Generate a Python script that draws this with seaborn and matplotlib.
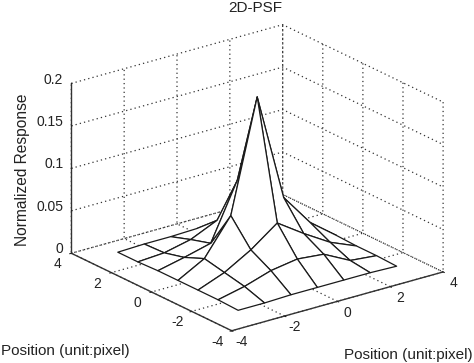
import numpy as np
import matplotlib
matplotlib.use("Agg")
import matplotlib.pyplot as plt
import seaborn as sns

# mesh nodes, -3..3 both ways
positions = [-3, -2, -1, 0, 1, 2, 3]
row_m3 = [.004, .004, .005, .005, .005, .005, .004]
row_m2 = [.005, .012, .022, .027, .024, .008, .005]
row_m1 = [.005, .017, .035, .058, .037, .018, .005]
row_0 = [.005, .022, .064, .195, .068, .030, .006]
row_p1 = [.005, .012, .020, .085, .035, .018, .005]
row_p2 = [.004, .006, .013, .027, .020, .010, .004]
row_p3 = [.004, .005, .005, .006, .005, .004, .004]

xy_ticks = [-4, -2, 0, 2, 4]
z_ticks = [0, 0.05, 0.1, 0.15, 0.2]
z_labels = ["0", "0.05", "0.1", "0.15", "0.2"]

sns.set_theme(style="white")
plt.rcParams["font.family"] = ["Liberation Sans", "DejaVu Sans"]
plt.rcParams["axes.unicode_minus"] = False

X, Y = np.meshgrid(positions, positions)
Z = np.array([row_m3, row_m2, row_m1, row_0, row_p1, row_p2, row_p3])

fig = plt.figure(figsize=(4.74, 3.63), dpi=100)
ax = fig.add_axes([0.0323, -0.003, 1, 1], projection="3d", proj_type="ortho")
ax.view_init(elev=21.5, azim=-127.2)
ax.set_box_aspect((266, 266, 183), zoom=1.116)

ax.plot_surface(X, Y, Z, color="white", edgecolor="#1a1a1a", linewidth=0.9, shade=False, rstride=1, cstride=1)

ax.set_xlim(-4, 4, view_margin=0)
ax.set_ylim(-4, 4, view_margin=0)
ax.set_zlim(0, 0.2, view_margin=0)
ax.set_xticks(xy_ticks)
ax.set_yticks(xy_ticks)
ax.set_zticks(z_ticks)

for axis in [ax.xaxis, ax.yaxis, ax.zaxis]:
    axis.set_pane_color((1, 1, 1, 0))
    axis.pane.set_edgecolor("none")
    axis.line.set_color("#333333")
    axis.line.set_linewidth(1.0)
    axis._axinfo["grid"].update(color="#333333", linewidth=0.9, linestyle=(0, (1, 2.5)))
    axis._axinfo["tick"].update(inward_factor=0.1, outward_factor=0.0, linewidth={True: 0.8, False: 0.5}, color="#333333")
ax.zaxis._axinfo["tick"].update(inward_factor=0.0, outward_factor=0.04)
ax.grid(True)
ax.tick_params(labelsize=10, colors="#222222", pad=-4)
ax.tick_params(axis="x", pad=0.5)
ax.tick_params(axis="y", pad=1)
ax.zaxis.set_ticks_position("upper")
for axis in [ax.xaxis, ax.yaxis]:
    for lab in axis.get_ticklabels():
        lab.set_va("baseline")

# tick labels on z sit too low in mplot3d, place them off the corner instead
ax.tick_params(axis="z", labelleft=False, labelright=False)
for lab in ax.zaxis.get_ticklabels():
    lab.set_visible(False)
for z, lab in zip(z_ticks, z_labels):
    ax.text(-4, 4.4, z, lab, ha="right", va="center", fontsize=10, color="#222222")

fig.text(0.539, 0.978, "2D-PSF", ha="center", va="center", fontsize=11, color="#222222")
fig.text(0.048, 0.531, "Normalized Response", rotation=90, ha="center", va="center", fontsize=11.2, color="#222222")
fig.text(0.137, 0.032, "Position (unit:pixel)", ha="center", va="center", fontsize=11, color="#222222")
fig.text(0.861, 0.022, "Position (unit:pixel)", ha="center", va="center", fontsize=11, color="#222222")

fig.savefig("out.png", dpi=100)
